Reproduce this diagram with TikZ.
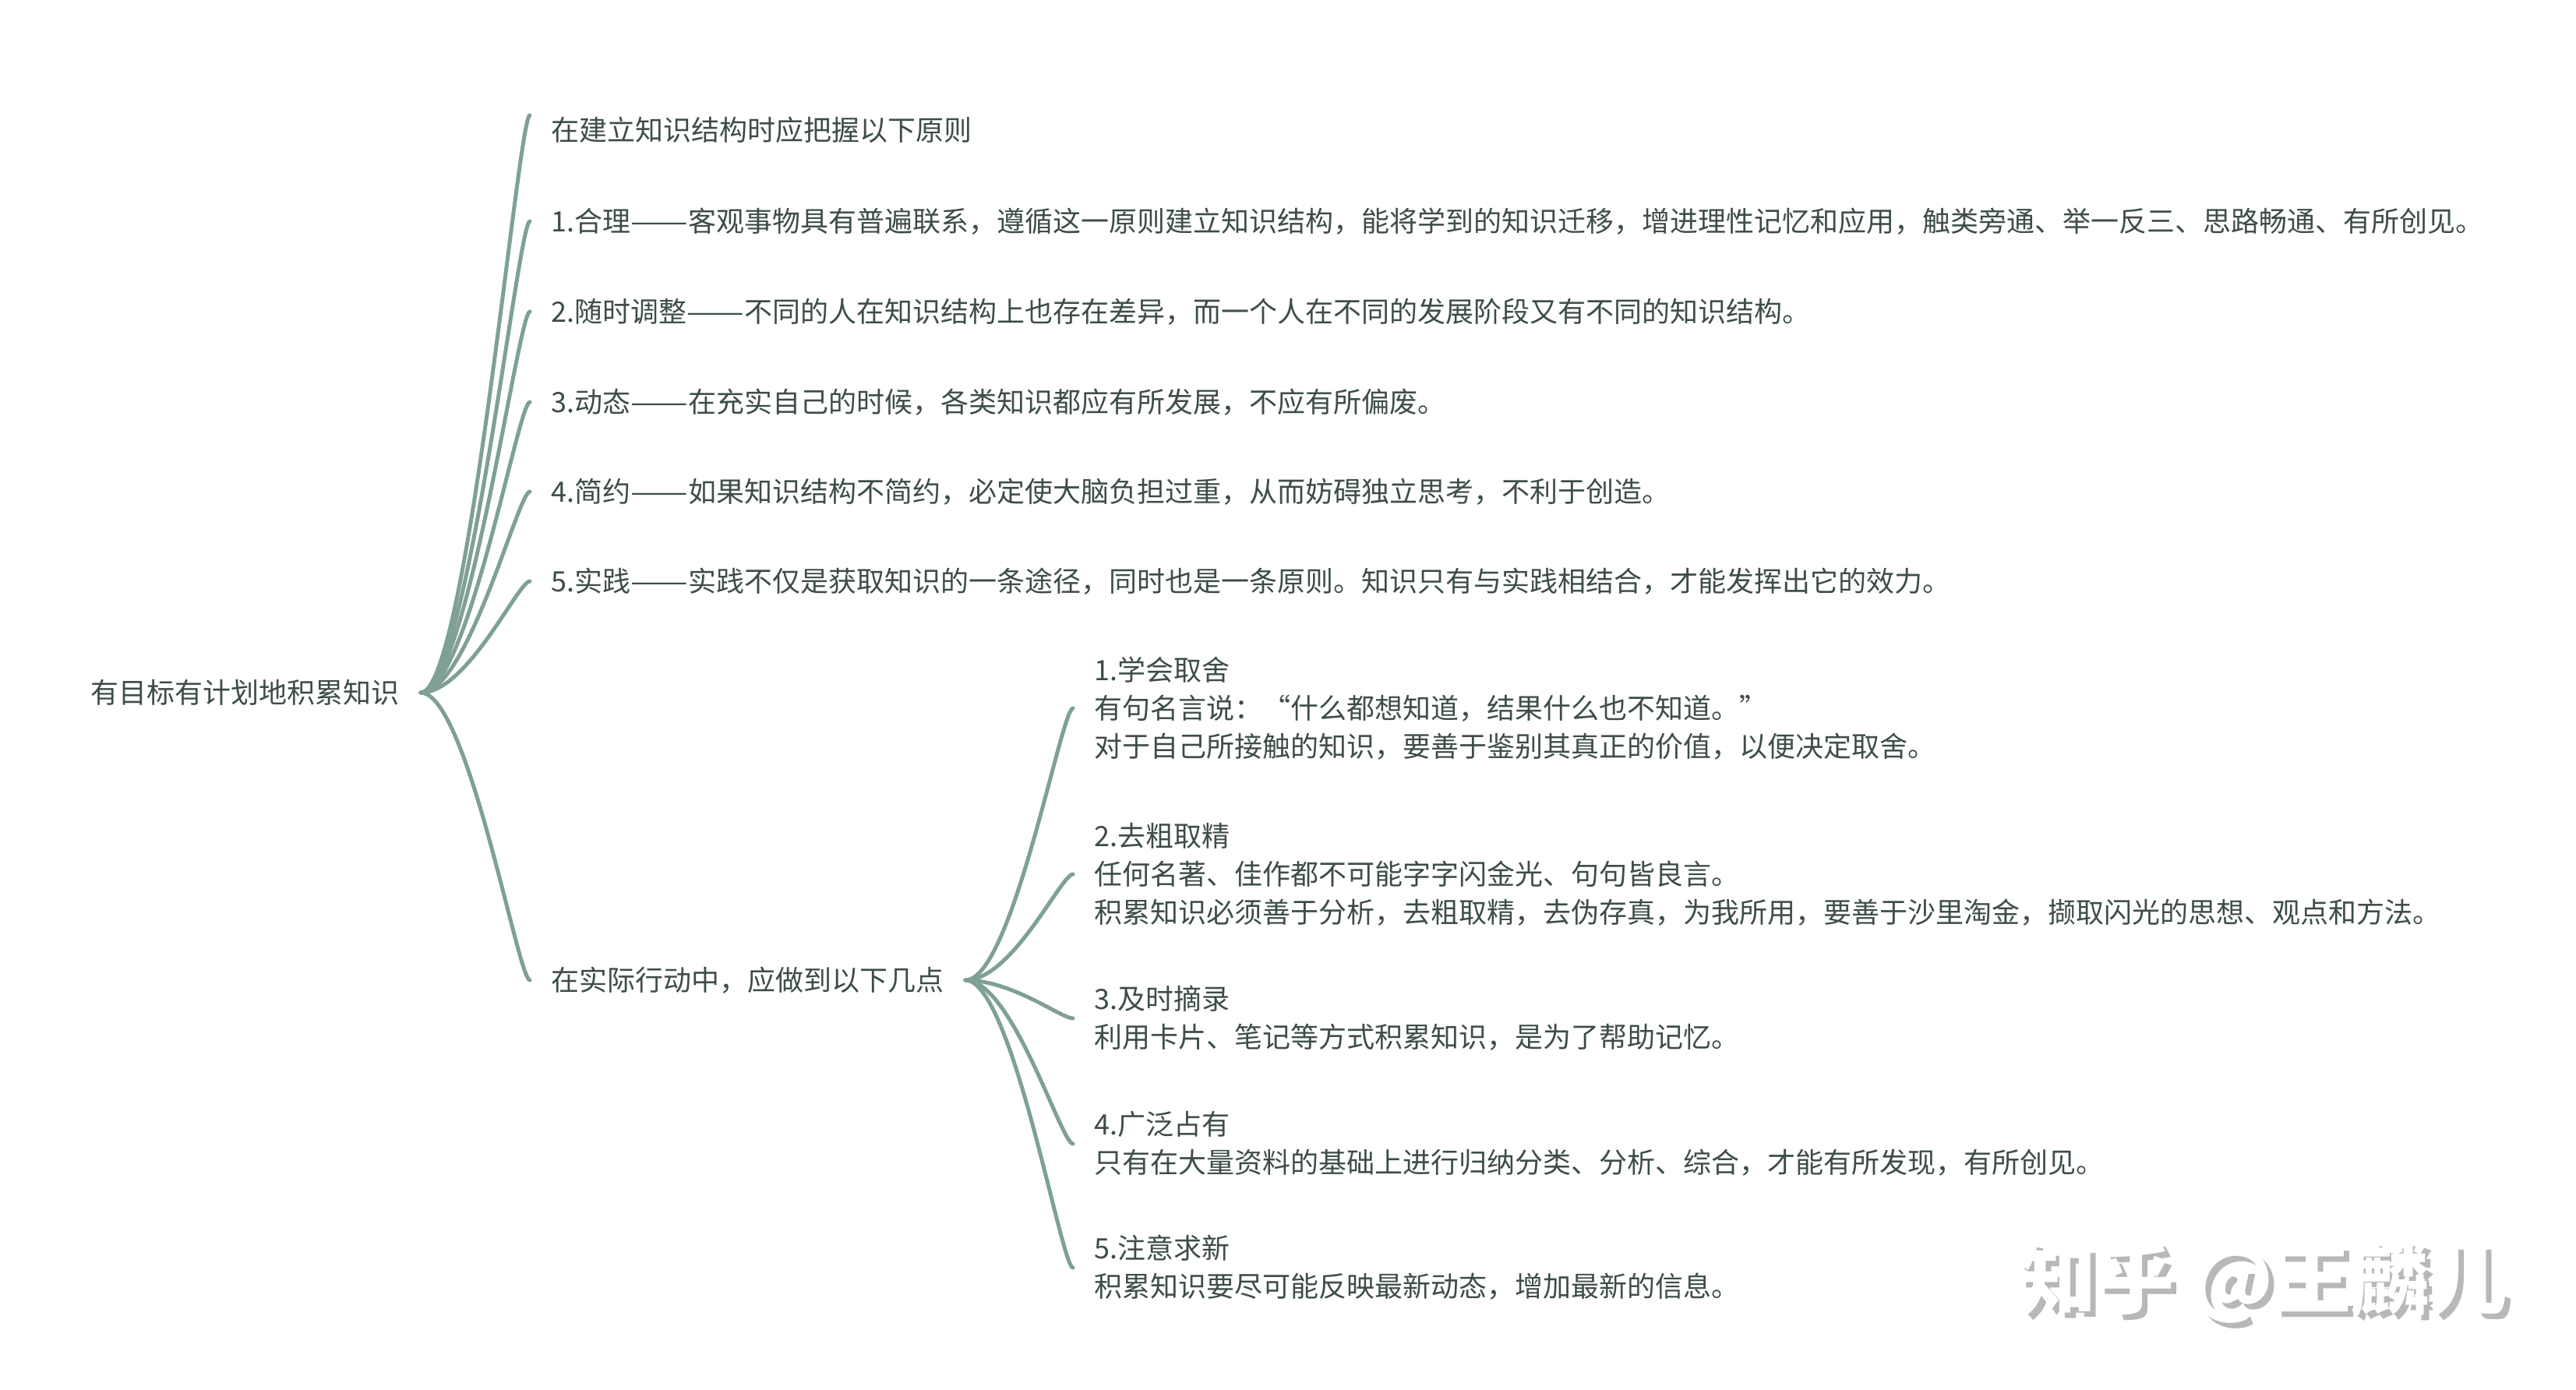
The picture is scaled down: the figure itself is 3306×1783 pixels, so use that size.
\documentclass[tikz,border=0pt]{standalone}
\usepackage{fontspec}
\setmainfont{Noto Sans CJK SC}
\usetikzlibrary{positioning}
\usetikzlibrary{calc}
\definecolor{branchgreen}{RGB}{127,160,149}
\definecolor{topictext}{RGB}{61,77,71}
\def\linesep{24.5pt}
\newcommand{\dashpair}{\scalebox{1.22}[1]{——}}

\begin{document}
\begin{tikzpicture}[x=0.5pt,y=-0.5pt,line width=2.5pt,line cap=round]
        \tikzstyle{topic}=[inner xsep=12.5pt,inner ysep=0pt,text=topictext,font=\fontsize{18pt}{\linesep}\selectfont,align=left]
        \tikzstyle{root topic}=[topic,anchor=east]
        \tikzstyle{sub topic}=[topic,anchor=west]
        \tikzstyle{branch}=[draw=branchgreen]
        \tikzstyle{watermark}=[inner sep=0pt,font=\fontsize{50pt}{60pt}\selectfont\bfseries]

        \useasboundingbox (0,0) rectangle (3306,1783);

        % Draw the root topic
        \node[root topic] (K) at (540,889) {有目标有计划地积累知识};

        % Draw the principle topics
        \foreach \name / \y / \txt in {0/167/在建立知识结构时应把握以下原则,
                1/284/1.合理\dashpair 客观事物具有普遍联系，遵循这一原则建立知识结构，能将学到的知识迁移，增进理性记忆和应用，触类旁通、举一反三、思路畅通、有所创见。,
                2/400/2.随时调整\dashpair 不同的人在知识结构上也存在差异，而一个人在不同的发展阶段又有不同的知识结构。,
                3/516/3.动态\dashpair 在充实自己的时候，各类知识都应有所发展，不应有所偏废。,
                4/631/4.简约\dashpair 如果知识结构不简约，必定使大脑负担过重，从而妨碍独立思考，不利于创造。,
                5/746/5.实践\dashpair 实践不仅是获取知识的一条途径，同时也是一条原则。知识只有与实践相结合，才能发挥出它的效力。}
            \node[sub topic] (P-\name) at (680,\y) {\txt};

        \node[sub topic] (A) at (680,1258) {在实际行动中，应做到以下几点};

        % Draw the action points
        \foreach \name / \y / \txt in {1/909/{1.学会取舍\\有句名言说：“什么都想知道，结果什么也不知道。”\\对于自己所接触的知识，要善于鉴别其真正的价值，以便决定取舍。},
                2/1122/{2.去粗取精\\任何名著、佳作都不可能字字闪金光、句句皆良言。\\积累知识必须善于分析，去粗取精，去伪存真，为我所用，要善于沙里淘金，撷取闪光的思想、观点和方法。},
                3/1307/{3.及时摘录\\利用卡片、笔记等方式积累知识，是为了帮助记忆。},
                4/1468/{4.广泛占有\\只有在大量资料的基础上进行归纳分类、分析、综合，才能有所发现，有所创见。},
                5/1627/{5.注意求新\\积累知识要尽可能反映最新动态，增加最新的信息。}}
            \node[sub topic] (S-\name) at (1377,\y) {\txt};

        % Connect the root with every topic of the first level
        \draw[branch] (K.east) .. controls +(60,0) and +(-15,0) .. ([yshift=9.5pt]P-0.west);
        \foreach \dest in {1,...,5}
            \draw[branch] (K.east) .. controls +(60,0) and +(-15,0) .. (P-\dest.west);
        \draw[branch] (K.east) .. controls +(60,0) and +(-15,0) .. (A.west);

        \foreach \dest in {1,...,5}
            \draw[branch] (A.east) .. controls +(60,0) and +(-15,0) .. (S-\dest.west);

        % Watermark
        \node[watermark,text=black!28] (W-1) at (2911,1652) {知乎 @王麟儿};
        \node[watermark,text=white] (W-2) at (2904,1645) {知乎 @王麟儿};

\end{tikzpicture}
\end{document}
